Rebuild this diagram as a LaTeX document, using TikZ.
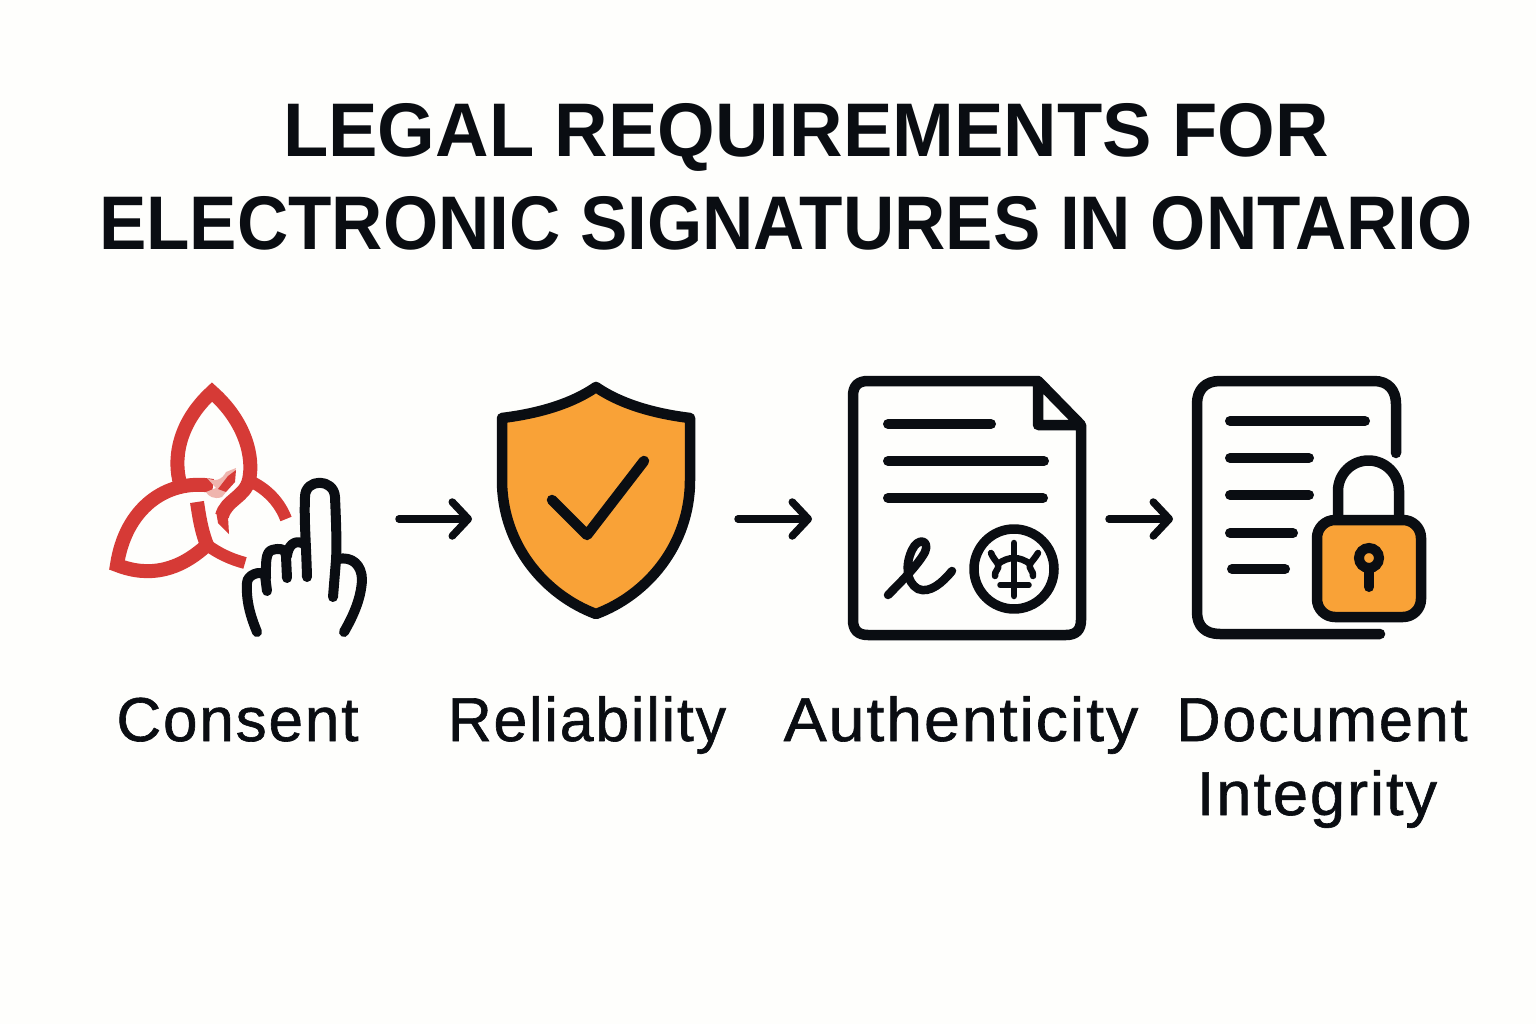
\documentclass[tikz,border=0pt]{standalone}
\usepackage{fontspec}
\setmainfont{Liberation Sans}
\newfontfamily\titlefont{Liberation Sans}
\newfontfamily\labelfont[LetterSpace=3,FakeBold=1]{Liberation Sans}
\usetikzlibrary{arrows.meta}
\definecolor{ink}{HTML}{0A0D12}
\definecolor{paper}{HTML}{FEFEFC}
\definecolor{amber}{HTML}{F9A237}
\definecolor{knot}{HTML}{D63A36}
\definecolor{smudge}{HTML}{EFB5AE}
\tikzset{
  x=1pt,y=-1pt,
  iconbox/.style={minimum height=240pt,inner sep=0pt,outer sep=0pt},
  titletext/.style={anchor=base,inner sep=0pt,text=ink,font=\titlefont\fontsize{76}{76}\selectfont\bfseries},
  labeltext/.style={anchor=base,inner sep=0pt,text=ink,font=\labelfont\fontsize{62}{62}\selectfont},
  flow/.style={draw=ink,line width=7.5pt,line cap=round,-{Straight Barb[length=16pt,width=34pt,round]}},
  ol/.style={draw=ink,line width=10.5pt,line cap=round,line join=round},
  rule/.style={draw=ink,line width=10pt,line cap=round},
  thinol/.style={draw=ink,line width=6.5pt,line cap=round,line join=round},
  hand/.style={draw=ink,line width=10pt,line cap=round,line join=round},
  knotline/.style={draw=knot,line width=14pt,line join=miter,line cap=butt},
}
\begin{document}
\begin{tikzpicture}
\useasboundingbox (0,0) rectangle (1536,1024);
\fill[paper] (0,0) rectangle (1536,1024);

% title
\node[titletext] (t1) at (806,157) {\scalebox{0.975}[1]{LEGAL REQUIREMENTS FOR}};
\node[titletext] (t2) at (786,250) {\scalebox{0.934}[1]{ELECTRONIC SIGNATURES IN ONTARIO}};

% invisible icon frames that carry the connectors
\node[iconbox,minimum width=255pt] (consent) at (237.5,519) {};
\node[iconbox,minimum width=195pt] (shield) at (595.5,519) {};
\node[iconbox,minimum width=235pt] (auth) at (967.5,519) {};
\node[iconbox,minimum width=233pt] (integrity) at (1308.5,519) {};

\draw[flow,shorten <=34pt,shorten >=26pt] (consent.east) -- (shield.west);
\draw[flow,shorten <=45pt,shorten >=38pt] (shield.east) -- (auth.west);
\draw[flow,shorten <=24pt,shorten >=19pt] (auth.east) -- (integrity.west);

% trinity knot
\draw[knotline] (180,483) .. controls (174,462) and (176,425) .. (212,392)
   .. controls (246,422) and (254,458) .. (249,480)
   .. controls (245,497) and (226,500) .. (222,516);
\draw[knotline] (213,486) .. controls (165,478) and (125,510) .. (117,565)
   .. controls (150,578) and (180,570) .. (207,545)
   .. controls (201,530) and (199,515) .. (197,502);
\draw[knotline,line width=12pt] (207,545) .. controls (218,553) and (230,559) .. (245,563);
\draw[knotline,line width=12pt] (252,482) .. controls (268,490) and (280,503) .. (286,519);
\fill[knot] (216,511) -- (228,517) -- (229,534) -- (218,523) -- cycle;
\fill[smudge] (207,478) .. controls (215,482) and (222,480) .. (226,472)
   -- (236,468) .. controls (234,480) and (228,490) .. (222,497)
   .. controls (214,500) and (208,496) .. (206,492) -- (216,488) -- cycle;
\fill[knot] (228,476) -- (236,470) -- (235,482) -- (226,492) -- (218,489) -- cycle;

% hand
\draw[hand] (257,632) .. controls (250,615) and (246,600) .. (247,583)
   .. controls (247,575) and (260,570) .. (265,575) -- (267,591);
\draw[hand] (266,578) .. controls (266,565) and (265,552) .. (272,550)
   .. controls (280,548) and (285,548) .. (286,556) -- (287,578);
\draw[hand] (287,556) .. controls (288,546) and (294,540) .. (302,543);
\draw[hand] (307,577) .. controls (306,540) and (304,520) .. (305,497)
   .. controls (305,478) and (334,478) .. (335,497)
   .. controls (336,520) and (337,545) .. (336,560) -- (333,597);
\draw[hand] (338,559) .. controls (352,556) and (362,565) .. (362,580)
   .. controls (361,600) and (352,618) .. (344,632);

% shield
\draw[ol,fill=amber] (596,387) .. controls (570,405) and (535,414) .. (502,418)
   -- (502,480) .. controls (502,545) and (545,595) .. (596,614)
   .. controls (647,595) and (690,545) .. (690,480)
   -- (690,418) .. controls (657,414) and (622,405) .. (596,387) -- cycle;
\draw[ol] (552,500) -- (587,535) -- (644,461);

% signed document
\draw[ol] (1038,381) -- (868,381) .. controls (858,381) and (853,386) .. (853,396)
   -- (853,620) .. controls (853,630) and (858,635) .. (868,635)
   -- (1066,635) .. controls (1076,635) and (1081,630) .. (1081,620)
   -- (1081,425) -- (1038,381) -- (1038,425) -- (1081,425);
\draw[rule] (888,424) -- (991,424);
\draw[rule] (888,461) -- (1044,461);
\draw[rule] (888,498) -- (1043,498);
\draw[ol,line width=8.5pt] (888,595) .. controls (900,583) and (918,565) .. (925,552)
   .. controls (930,540) and (918,537) .. (912,550)
   .. controls (905,565) and (906,582) .. (918,589)
   .. controls (930,594) and (943,582) .. (952,571);
\draw[ol,line width=9.5pt] (1014,569) circle[radius=40];
\draw[thinol] (1014,543) -- (1014,596);
\draw[thinol,line width=5.5pt] (1000,585) -- (1029,585);
\draw[thinol] (991,553) .. controls (993,558) and (996,561) .. (998,564)
   .. controls (1003,560) and (1009,558) .. (1014,558)
   .. controls (1019,558) and (1025,560) .. (1030,564)
   .. controls (1032,561) and (1035,558) .. (1038,553);
\draw[thinol] (998,564) .. controls (1000,569) and (994,571) .. (995,576);
\draw[thinol] (1030,564) .. controls (1028,569) and (1034,571) .. (1033,576);

% locked document
\draw[ol] (1396,453) -- (1396,404) .. controls (1396,390) and (1388,381) .. (1374,381)
   -- (1220,381) .. controls (1205,381) and (1197,390) .. (1197,404)
   -- (1197,612) .. controls (1197,626) and (1205,634) .. (1220,634) -- (1380,634);
\draw[rule] (1230,421) -- (1365,421);
\draw[rule] (1230,458) -- (1309,458);
\draw[rule] (1230,495) -- (1309,495);
\draw[rule] (1230,533) -- (1293,533);
\draw[rule] (1232,569) -- (1285,569);
\draw[ol] (1338,522) -- (1338,491) arc[start angle=180,end angle=360,radius=30.5] -- (1399,522);
\draw[ol,fill=amber,rounded corners=18pt] (1317,520) rectangle (1421,617);
\draw[ink,line width=10pt,fill=amber] (1369,558) circle[radius=10];
\draw[rule] (1369,570) -- (1369,587);

% labels
\node[labeltext] (l1) at (237.5,741) {Consent};
\node[labeltext] (l2) at (587,741) {\scalebox{0.98}[1]{Reliability}};
\node[labeltext] (l3) at (961,741) {\scalebox{1.04}[1]{Authenticity}};
\node[labeltext] (l4) at (1322,741) {\scalebox{0.985}[1]{Document}};
\node[labeltext] (l5) at (1317,815) {\scalebox{1.02}[1]{Integrity}};
\end{tikzpicture}
\end{document}
